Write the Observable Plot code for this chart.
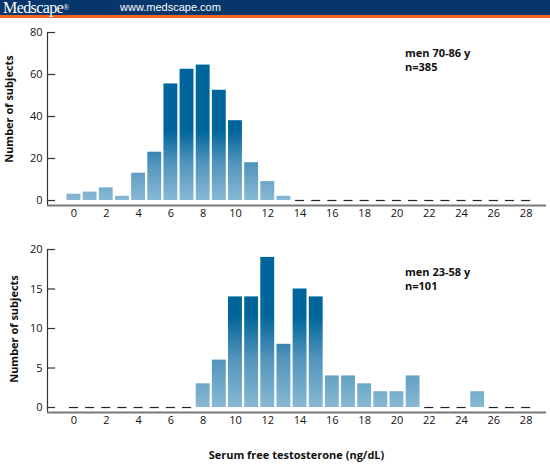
<!DOCTYPE html>
<html>
<head>
<meta charset="utf-8">
<script src="https://cdn.jsdelivr.net/npm/d3@7"></script>
<script src="https://cdn.jsdelivr.net/npm/@observablehq/plot@0.6"></script>
<style>
  body { margin: 0; width: 550px; height: 468px; background: #fff; position: relative; overflow: hidden; }
  #header { position: absolute; left: 0; top: 0; width: 550px; height: 15px; background: #06366a; border-bottom: 3px solid #f26522; }
  #header .brand { position: absolute; left: 3px; top: 1px; font: 16px/14px "Liberation Serif", serif; color: #fff; letter-spacing: -0.6px; }
  #header .brand sup { font-size: 8px; line-height: 8px; vertical-align: 3px; }
  #header .url { position: absolute; left: 120px; top: 1px; font: 11px/13px "Liberation Sans", Arial, sans-serif; color: #fff; }
  #top { position: absolute; left: 0; top: 18px; }
  #bottom { position: absolute; left: 0; top: 228px; }
  #xtitle { position: absolute; left: 47px; width: 499px; top: 447px; text-align: center;
            font: bold 11px "Open Sans", sans-serif; color: #111; }
</style>
</head>
<body>
<div id="header"><span class="brand">Medscape<sup>®</sup></span><span class="url">www.medscape.com</span></div>
<div id="top"></div>
<div id="bottom"></div>
<div id="xtitle">Serum free testosterone (ng/dL)</div>
<script>
// bins of serum free testosterone (ng/dL), 0..28
const bins = d3.range(0, 29)
const xTicks = d3.range(0, 29, 2)

// men 70-86 y, n=385
const countsOld = [3, 4, 6, 2, 13, 23, 55.5, 62.5, 64.5, 52.5, 38, 18, 9, 2,
                   0, 0, 0, 0, 0, 0, 0, 0, 0, 0, 0, 0, 0, 0, 0]
const yTicksOld = [0, 20, 40, 60, 80]

// men 23-58 y, n=101
const countsYoung = [0, 0, 0, 0, 0, 0, 0, 0, 3, 6, 14, 14, 19, 8, 15, 14,
                     4, 4, 3, 2, 2, 4, 0, 0, 0, 2, 0, 0, 0]
const yTicksYoung = [0, 5, 10, 15, 20]

const light = "#88b9d4"
const dark = "#00659a"

// gradient laid over the whole chart, light at 0 and solid dark from yDark up
function gradientDefs(id, yDark) {
  return (index, scales) => {
    const defs = d3.create("svg:defs")
    const g = defs.append("linearGradient")
      .attr("id", id)
      .attr("gradientUnits", "userSpaceOnUse")
      .attr("x1", 0).attr("x2", 0)
      .attr("y1", scales.y(0)).attr("y2", scales.y(yDark))
    g.append("stop").attr("offset", 0).attr("stop-color", light)
    g.append("stop").attr("offset", 0.55).attr("stop-color", "#4f93bb")
    g.append("stop").attr("offset", 1).attr("stop-color", dark)
    return defs.node()
  }
}

function histogram({counts, yTicks, yDomain, yDark, id, label, note, noteDy, marginTop, marginBottom, height, titleDx, titleDy}) {
  const data = bins.map((t, i) => ({t, n: counts[i]}))
  const xDomain = [-1.64, 29.26]
  return Plot.plot({
    width: 550,
    height,
    marginLeft: 47,
    marginRight: 4,
    marginTop,
    marginBottom,
    style: {fontFamily: "'Open Sans', sans-serif", fontSize: "11px", color: "#111", overflow: "visible"},
    x: {domain: xDomain},
    y: {domain: yDomain},
    marks: [
      gradientDefs(id, yDark),
      Plot.rectY(data.filter(d => d.n > 0), {
        x1: d => d.t - 0.43,
        x2: d => d.t + 0.43,
        y1: 0,
        y2: "n",
        fill: `url(#${id})`
      }),
      // zero bins drawn as short dashes
      Plot.ruleY(data.filter(d => d.n === 0), {
        y: 0,
        x1: d => d.t - 0.28,
        x2: d => d.t + 0.28,
        stroke: "#222",
        strokeWidth: 1.2
      }),
      // axes
      Plot.ruleX([xDomain[0]], {stroke: "#333", strokeWidth: 1.2}),
      Plot.ruleY([yDomain[0]], {stroke: "#777", strokeWidth: 2}),
      Plot.ruleY(yTicks, {x1: xDomain[0], x2: xDomain[0] + 0.5, stroke: "#333", strokeWidth: 1.2}),
      Plot.axisY({ticks: yTicks, tickSize: 0, tickPadding: 5, label: null}),
      Plot.axisX({ticks: xTicks, tickSize: 0, tickPadding: 4, label: null}),
      Plot.text([label], {
        frameAnchor: "left", textAnchor: "middle", rotate: -90, dx: titleDx, dy: titleDy,
        fontWeight: "bold", fontSize: 11, fill: "#111"
      }),
      Plot.text([note], {
        frameAnchor: "top-left", x: 20.5, dy: noteDy, lineHeight: 1.3,
        textAnchor: "start", fontWeight: "bold", fontSize: 11, fill: "#111"
      })
    ]
  })
}

const topChart = histogram({
  counts: countsOld, yTicks: yTicksOld, yDomain: [-2.38, 80], yDark: 33,
  id: "gradOld", label: "Number of subjects", note: "men 70-86 y\nn=385", noteDy: 14,
  marginTop: 14, marginBottom: 23, height: 210, titleDx: -38, titleDy: -10
})
d3.select("#top").append(() => topChart)

const bottomChart = histogram({
  counts: countsYoung, yTicks: yTicksYoung, yDomain: [-0.63, 20], yDark: 11.5,
  id: "gradYoung", label: "Number of subjects", note: "men 23-58 y\nn=101", noteDy: 16,
  marginTop: 21, marginBottom: 21, height: 205, titleDx: -33, titleDy: -2
})
d3.select("#bottom").append(() => bottomChart)
</script>
</body>
</html>
